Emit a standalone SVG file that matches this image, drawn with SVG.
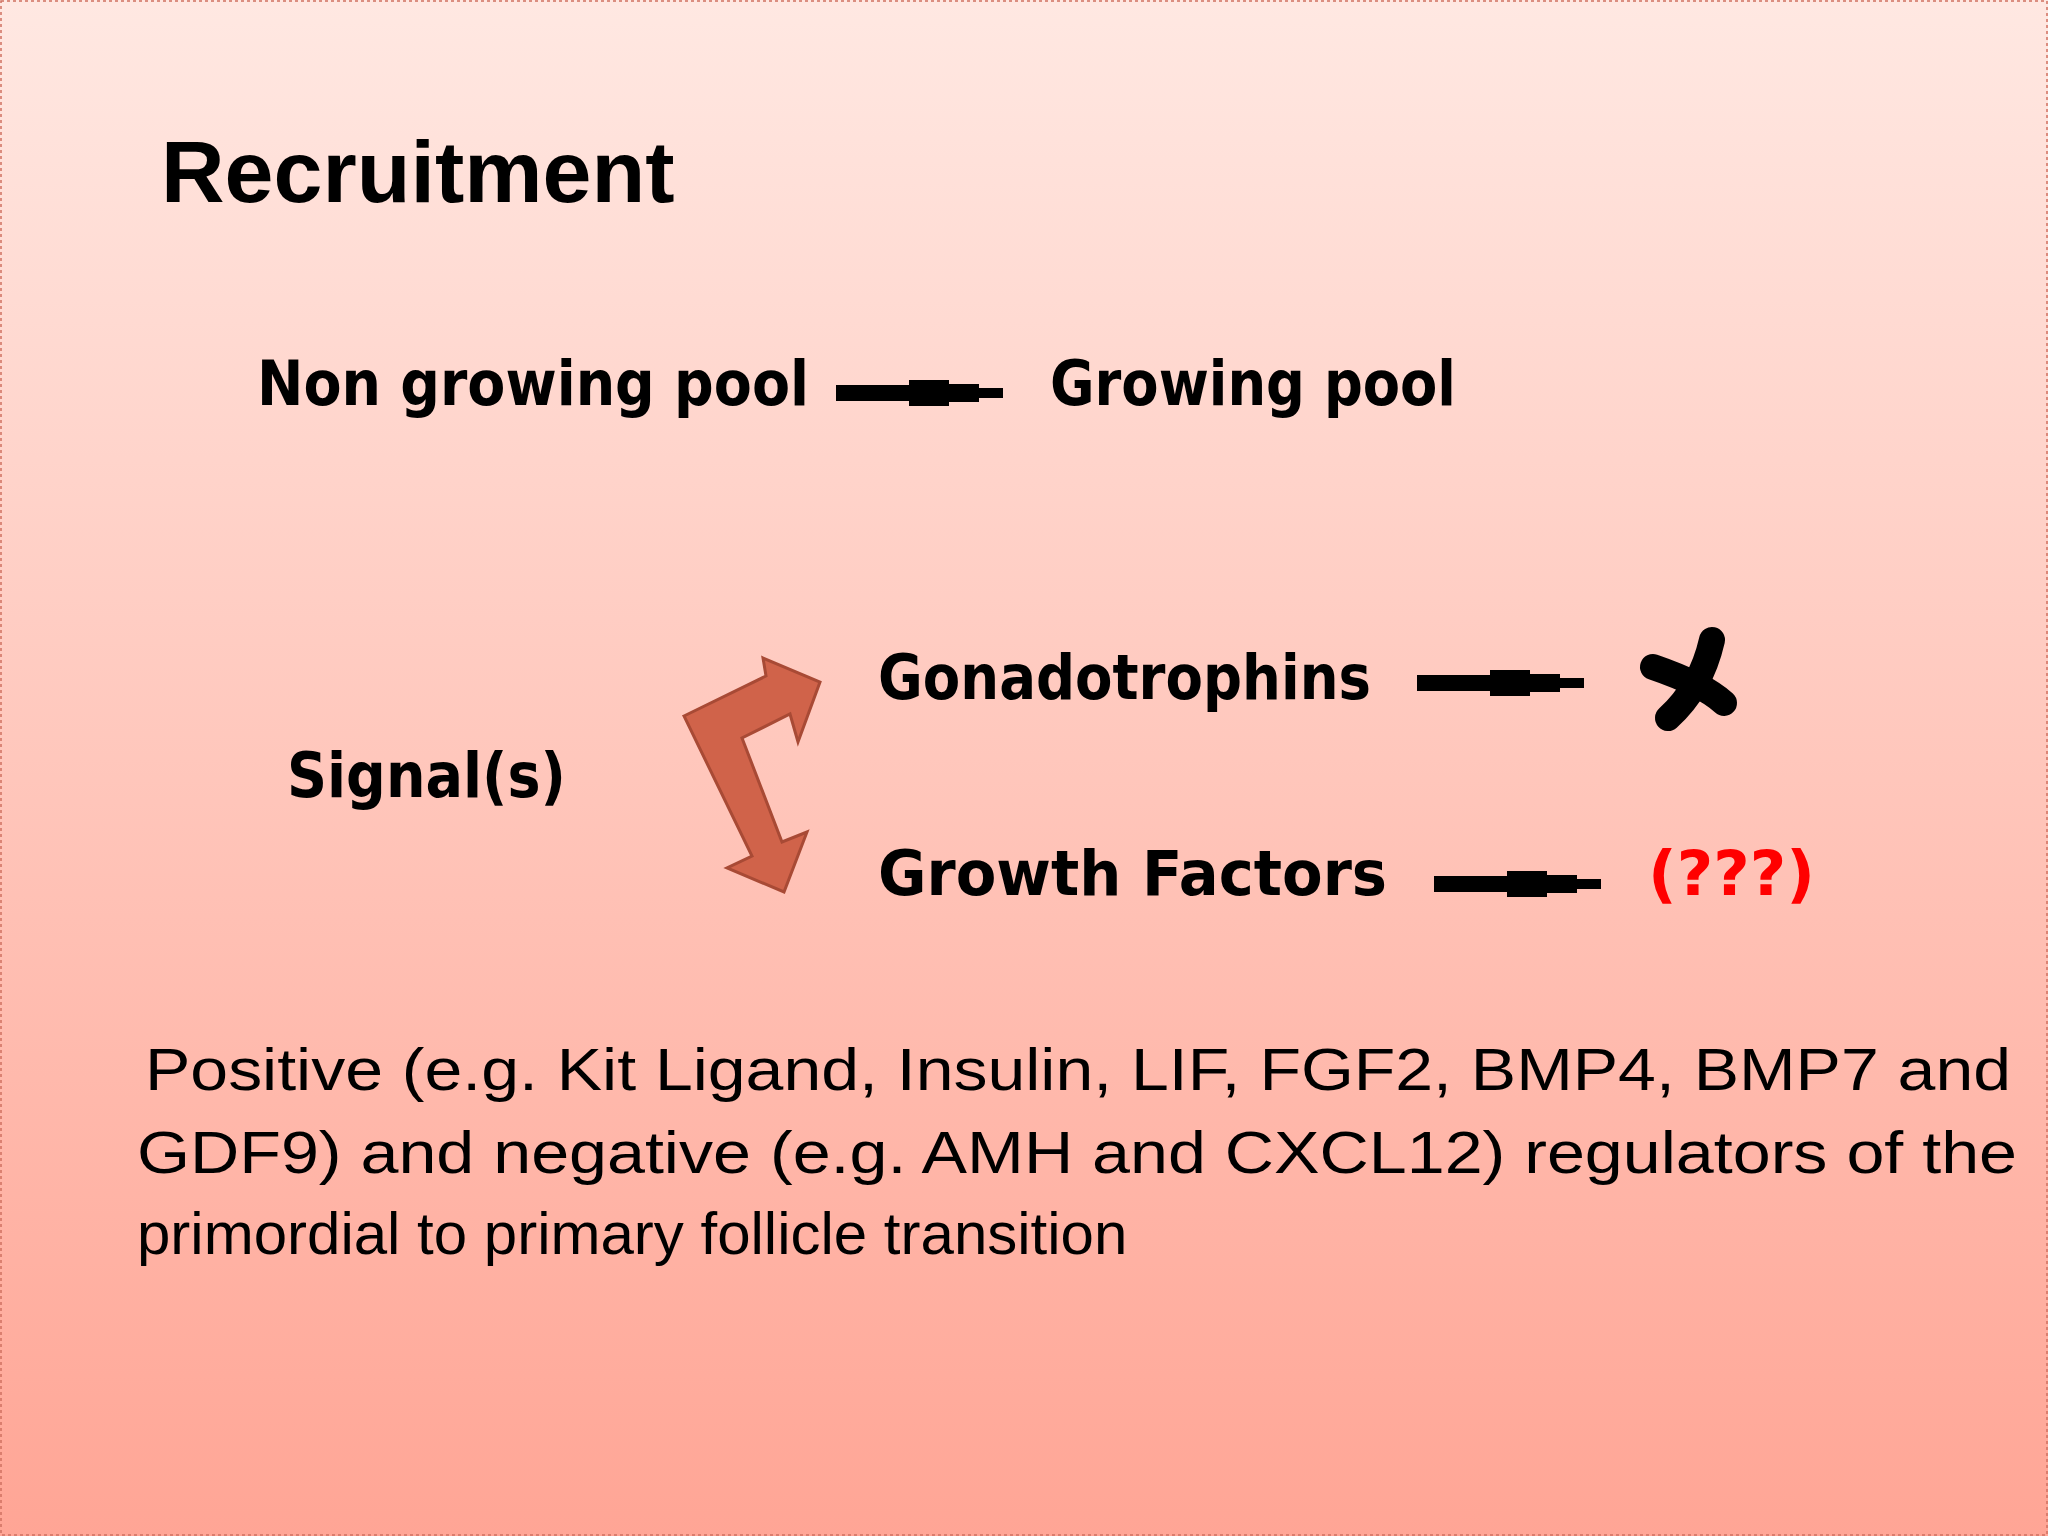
<svg xmlns="http://www.w3.org/2000/svg" xmlns:xlink="http://www.w3.org/1999/xlink" width="2048" height="1536" viewBox="0 0 2048 1536">
<defs>
<linearGradient id="bg" x1="0" y1="0" x2="0" y2="1">
<stop offset="0" stop-color="#ffe8e2"/>
<stop offset="1" stop-color="#ffa595"/>
</linearGradient>
<g id="pen">
<path d="M0,-8 H73 V-13 H113 V-9 H143 V-5 H167 V5 H143 V9 H113 V13 H73 V8 H0 Z" fill="#000"/>
</g>
</defs>
<style>
.hand{font-family:"Comic Sans MS","DejaVu Sans",sans-serif;font-weight:bold;font-size:62px;fill:#000}
.body{font-family:"Liberation Sans",Arial,sans-serif;font-size:60px;fill:#000}
</style>
<rect width="2048" height="1536" fill="url(#bg)"/>
<rect x="1" y="1" width="2046" height="1534" fill="none" stroke="#d07060" stroke-width="1.5" stroke-dasharray="3,3"/>
<text x="161" y="202" font-family="Liberation Sans,Arial,sans-serif" font-weight="bold" font-size="88" fill="#000">Recruitment</text>
<g id="nongrowing"><text class="hand" x="257" y="405" textLength="552" lengthAdjust="spacingAndGlyphs">Non growing pool</text></g>
<g id="growing"><text class="hand" x="1050" y="405" textLength="406" lengthAdjust="spacingAndGlyphs">Growing pool</text></g>
<g id="signals"><text class="hand" x="287" y="797" textLength="279" lengthAdjust="spacingAndGlyphs">Signal(s)</text></g>
<g id="gonado"><text class="hand" x="878" y="699" textLength="493" lengthAdjust="spacingAndGlyphs">Gonadotrophins</text></g>
<g id="growthf"><text class="hand" x="878" y="895" textLength="509" lengthAdjust="spacingAndGlyphs">Growth Factors</text></g>
<g id="cross"><path d="M1662,646 Q1680,690 1700,712 M1710,638 Q1690,690 1670,720 M1660,676 Q1700,690 1726,700" stroke="none" fill="none"/>
<path d="M1712,640 C1704,675 1688,700 1668,718" stroke="#000" stroke-width="26" stroke-linecap="round" fill="none"/>
<path d="M1653,667 C1685,678 1710,690 1724,703" stroke="#000" stroke-width="26" stroke-linecap="round" fill="none"/>
</g>
<g id="unknown"><text class="hand" x="1648" y="895" fill="#ff0000" style="fill:#ff0000" textLength="167" lengthAdjust="spacingAndGlyphs">(???)</text></g>
<g id="connectors">
<use xlink:href="#pen" x="836" y="393"/>
<use xlink:href="#pen" x="1417" y="683"/>
<use xlink:href="#pen" x="1434" y="884"/>
<polygon points="684,716 766,676 763,658 820,682 798,742 790,714 742,738 782,842 807,832 784,892 727,868 752,856" fill="#d0634a" stroke="#a84a35" stroke-width="3" stroke-linejoin="miter"/>
</g>
<g id="paragraph">
<text class="body" x="145" y="1090" textLength="1866" lengthAdjust="spacingAndGlyphs">Positive (e.g. Kit Ligand, Insulin, LIF, FGF2, BMP4, BMP7 and</text>
<text class="body" x="137" y="1173" textLength="1880" lengthAdjust="spacingAndGlyphs">GDF9) and negative (e.g. AMH and CXCL12) regulators of the</text>
<text class="body" x="137" y="1254">primordial to primary follicle transition</text>
</g>
</svg>
